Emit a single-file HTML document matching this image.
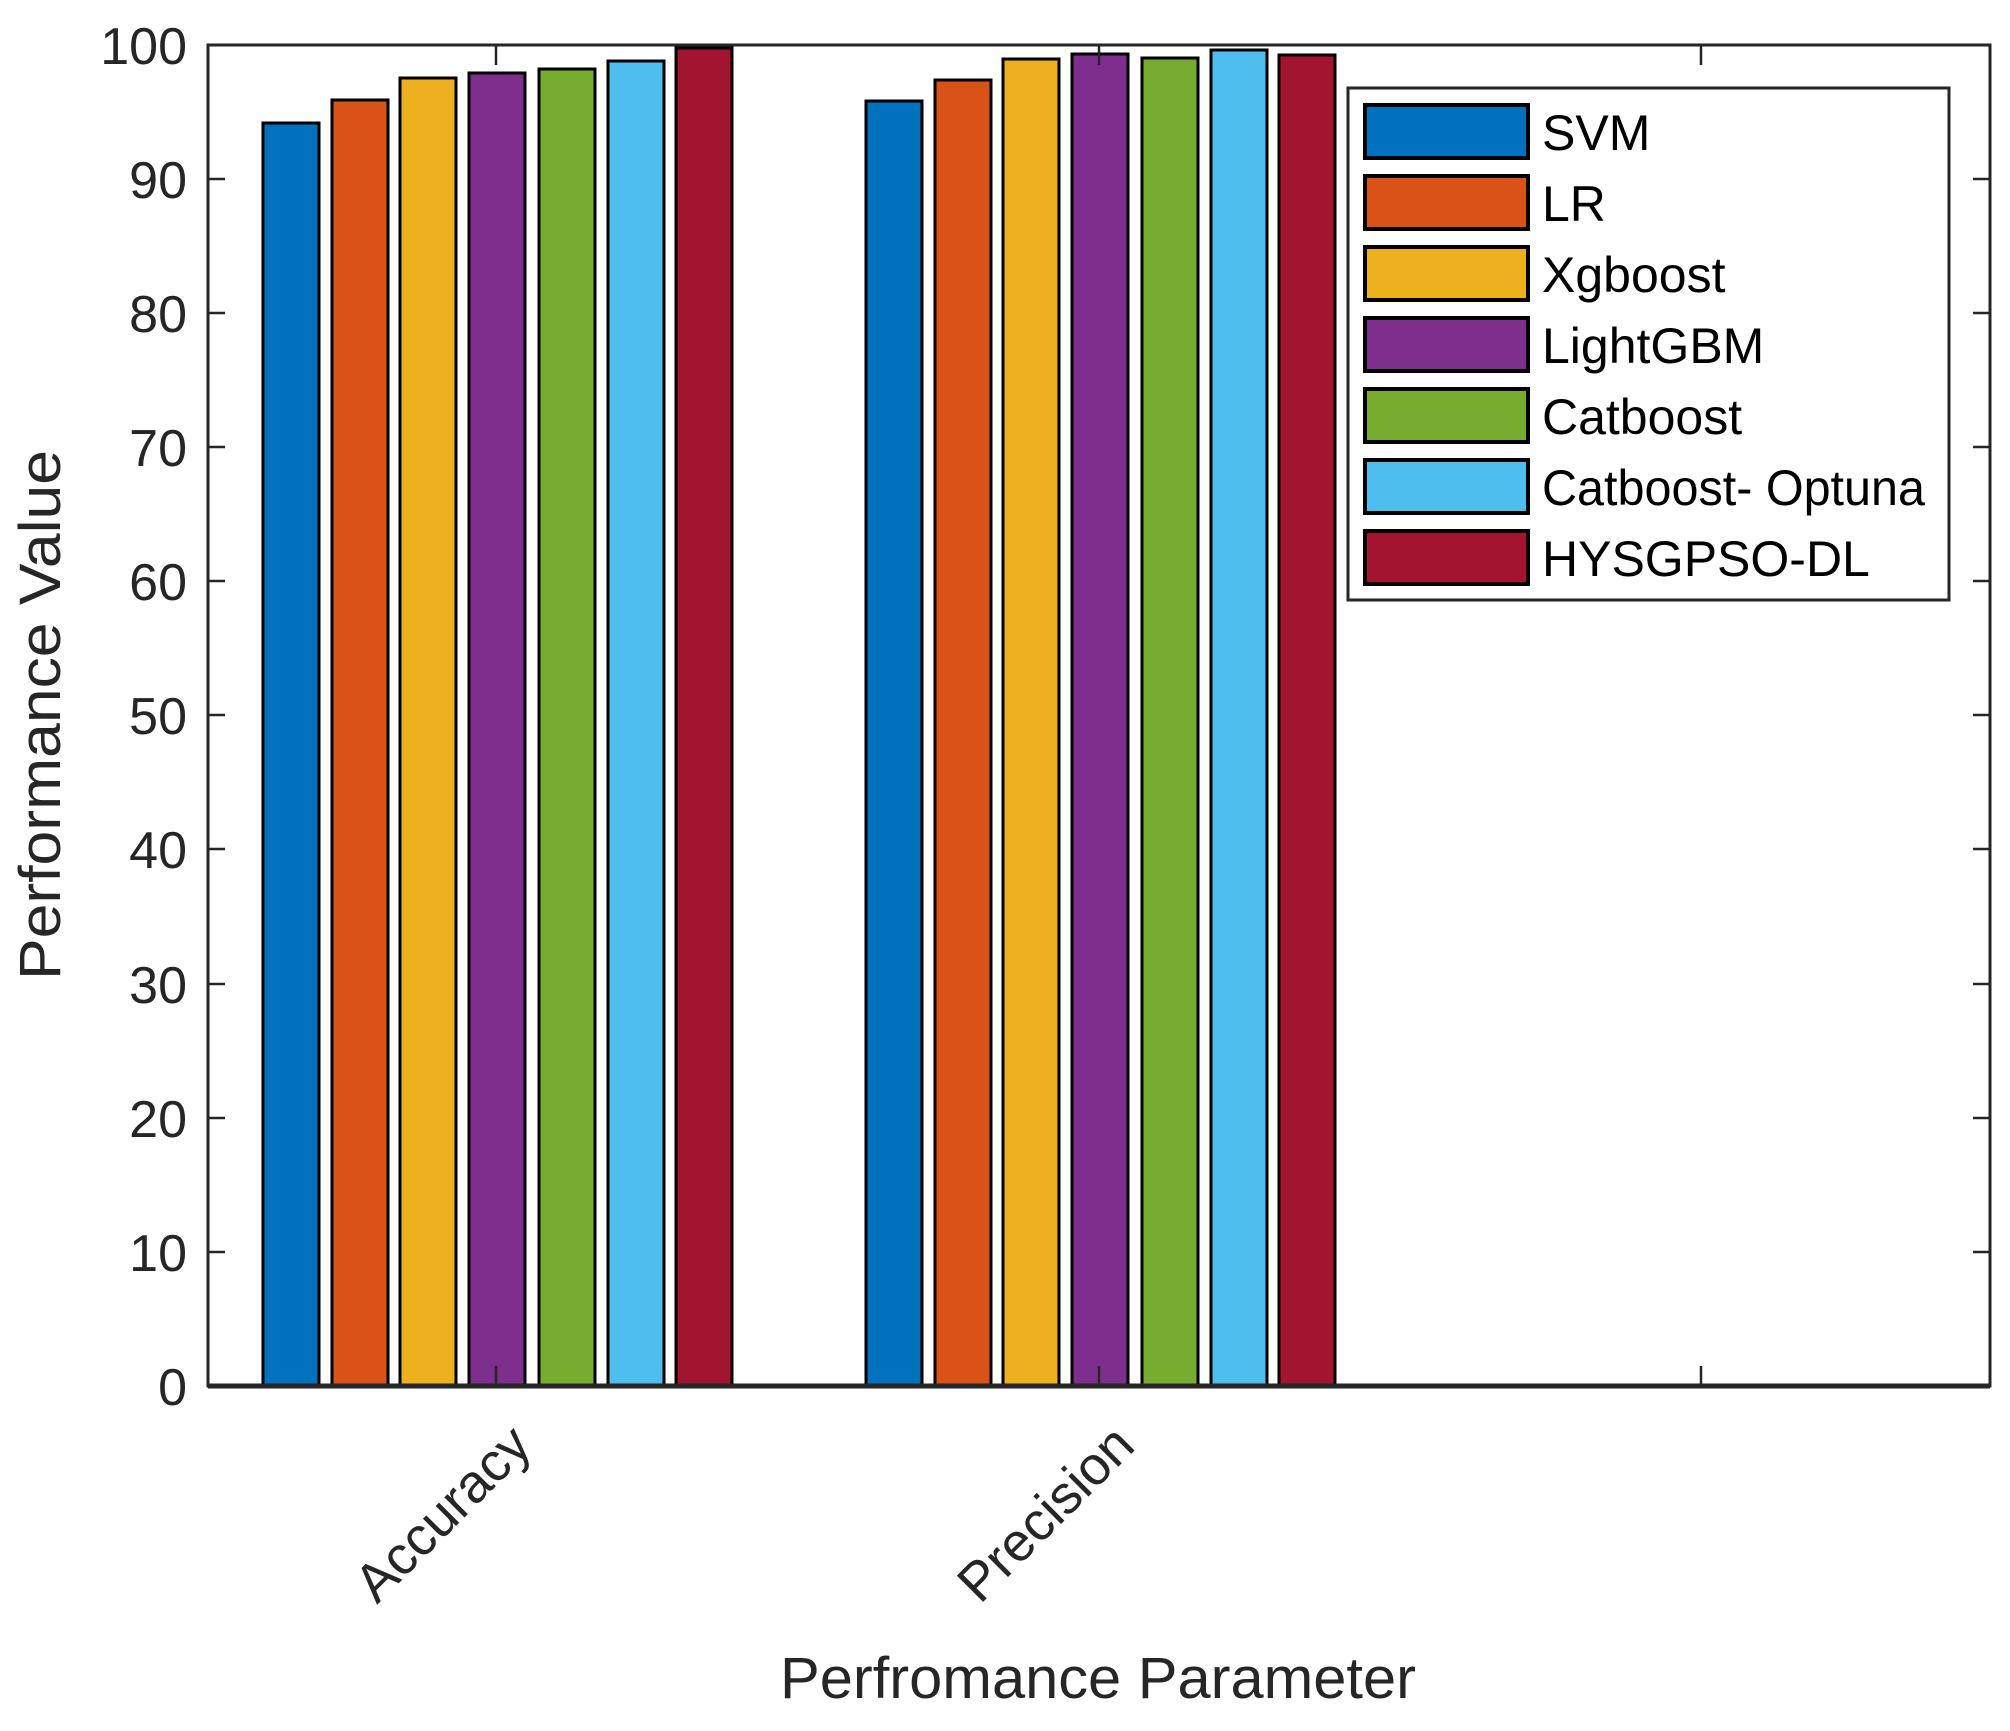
<!DOCTYPE html>
<html><head><meta charset="utf-8"><style>body{margin:0;background:#fff}svg{display:block}</style></head>
<body>
<svg width="2010" height="1731" viewBox="0 0 2010 1731" xmlns="http://www.w3.org/2000/svg" font-family="Liberation Sans, Arial, sans-serif">
<rect width="2010" height="1731" fill="#fff"/>
<g stroke="#000" stroke-width="3">
<rect x="263" y="123" width="56" height="1263" fill="#0072BD"/>
<rect x="332" y="100" width="56" height="1286" fill="#D95319"/>
<rect x="400" y="78" width="56" height="1308" fill="#EDB120"/>
<rect x="469" y="73" width="56" height="1313" fill="#7E2F8E"/>
<rect x="539" y="69" width="56" height="1317" fill="#77AC30"/>
<rect x="608" y="61" width="56" height="1325" fill="#4DBEEE"/>
<rect x="676" y="48" width="56" height="1338" fill="#A2142F"/>
<rect x="866" y="101" width="56" height="1285" fill="#0072BD"/>
<rect x="935" y="80" width="56" height="1306" fill="#D95319"/>
<rect x="1003" y="59" width="56" height="1327" fill="#EDB120"/>
<rect x="1072" y="54" width="56" height="1332" fill="#7E2F8E"/>
<rect x="1142" y="58" width="56" height="1328" fill="#77AC30"/>
<rect x="1211" y="50" width="56" height="1336" fill="#4DBEEE"/>
<rect x="1279" y="55" width="56" height="1331" fill="#A2142F"/>
</g>
<g stroke="#262626" stroke-width="3" fill="none">
<rect x="208" y="45" width="1782" height="1341"/>
<line x1="208" y1="1386" x2="1990" y2="1386" stroke-width="5"/>
<path d="M208 45h17M208 179h17M208 313h17M208 447h17M208 581h17M208 715h17M208 849h17M208 984h17M208 1118h17M208 1252h17
M1990 179h-17M1990 313h-17M1990 447h-17M1990 581h-17M1990 715h-17M1990 849h-17M1990 984h-17M1990 1118h-17M1990 1252h-17
M496 1386v-20M1099 1386v-20M1701 1386v-20M496 45v20M1099 45v20M1701 45v20" stroke-width="2.5"/>
</g>
<g fill="#262626" font-size="52" text-anchor="end">
<text x="187" y="64">100</text>
<text x="187" y="198">90</text>
<text x="187" y="332">80</text>
<text x="187" y="466">70</text>
<text x="187" y="600">60</text>
<text x="187" y="734">50</text>
<text x="187" y="868">40</text>
<text x="187" y="1003">30</text>
<text x="187" y="1137">20</text>
<text x="187" y="1271">10</text>
<text x="187" y="1405">0</text>
</g>
<g fill="#262626" font-size="54" text-anchor="end">
<text transform="translate(534,1448) rotate(-45)">Accuracy</text>
<text transform="translate(1137,1448) rotate(-45)">Precision</text>
</g>
<text x="1098" y="1698" fill="#262626" font-size="58" text-anchor="middle" textLength="636" lengthAdjust="spacingAndGlyphs">Perfromance Parameter</text>
<text transform="translate(60,715) rotate(-90)" fill="#262626" font-size="58" text-anchor="middle" textLength="530" lengthAdjust="spacingAndGlyphs">Performance Value</text>
<rect x="1348" y="88" width="601" height="512" fill="#fff" stroke="#262626" stroke-width="3"/>
<g stroke="#000" stroke-width="4">
<rect x="1365" y="105" width="163" height="53" fill="#0072BD"/>
<rect x="1365" y="176" width="163" height="53" fill="#D95319"/>
<rect x="1365" y="247" width="163" height="53" fill="#EDB120"/>
<rect x="1365" y="318" width="163" height="53" fill="#7E2F8E"/>
<rect x="1365" y="389" width="163" height="53" fill="#77AC30"/>
<rect x="1365" y="460" width="163" height="53" fill="#4DBEEE"/>
<rect x="1365" y="531" width="163" height="53" fill="#A2142F"/>
</g>
<g fill="#000" font-size="50">
<text x="1542" y="150">SVM</text>
<text x="1542" y="221">LR</text>
<text x="1542" y="292">Xgboost</text>
<text x="1542" y="363">LightGBM</text>
<text x="1542" y="434">Catboost</text>
<text x="1542" y="505" textLength="383" lengthAdjust="spacingAndGlyphs">Catboost- Optuna</text>
<text x="1542" y="576">HYSGPSO-DL</text>
</g>
</svg>
</body></html>
